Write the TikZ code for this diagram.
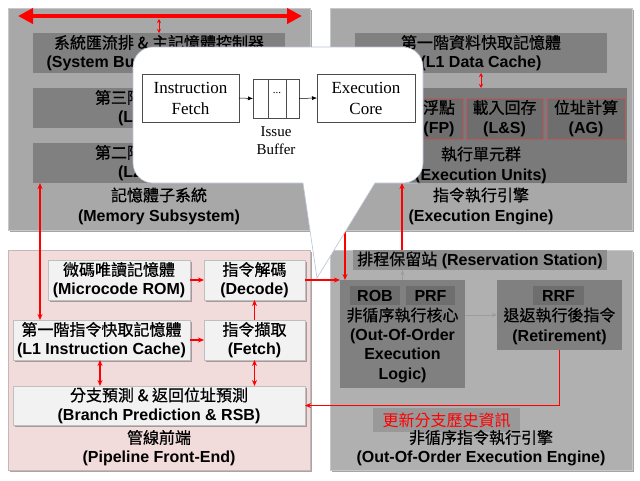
\documentclass[tikz,border=0pt]{standalone}
\usepackage{fontspec}
\setmainfont{Liberation Sans}
\newfontfamily\cjk{Noto Sans CJK TC}[FakeBold=0.6]
\newfontfamily\cjkred{Noto Sans CJK TC}
\newfontfamily\tms{Liberation Serif}
\usetikzlibrary{arrows.meta,shadows}
\definecolor{pgray}{HTML}{A8A8A8}
\definecolor{pline}{HTML}{C4C8CE}
\definecolor{dgray}{HTML}{808080}
\definecolor{ddgray}{HTML}{6E6E6E}
\definecolor{ogray}{HTML}{B0B0B0}
\definecolor{rsgray}{HTML}{8E8E8E}
\definecolor{updgray}{HTML}{999999}
\definecolor{pinkbg}{HTML}{F2DCDB}
\definecolor{pinkline}{HTML}{C9B5B5}
\definecolor{lbox}{HTML}{F2F2F2}
\definecolor{lboxline}{HTML}{BFBFBF}
\definecolor{eubord}{HTML}{B45A5A}
\definecolor{calline}{HTML}{B9C3D3}
\definecolor{garrow}{HTML}{9C9C9C}
\tikzset{
  sz/.style 2 args={minimum width=#1 pt, minimum height=#2 pt},
  panel/.style={draw=pline, line width=0.6pt, fill=#1, inner sep=0pt, outer sep=0pt,
    drop shadow={shadow xshift=2pt, shadow yshift=-2pt, opacity=0.35, fill=black}},
  gbox/.style={fill=#1, draw=none, inner sep=0pt, outer sep=0pt, align=center,
    font=\fontsize{16}{19}\selectfont},
  lbx/.style={fill=lbox, draw=lboxline, line width=0.5pt, inner sep=0pt, outer sep=0pt,
    align=center, font=\fontsize{16}{19}\selectfont,
    drop shadow={shadow xshift=1.5pt, shadow yshift=-1.5pt, opacity=0.3, fill=black}},
  lbl/.style={align=center, font=\fontsize{16}{20}\selectfont, inner sep=0pt},
  redarr/.style={draw=red, line width=1.2pt, -{Stealth[length=6pt,width=5pt]}},
  redbi/.style={draw=red, line width=1.2pt, {Stealth[length=6pt,width=5pt]}-{Stealth[length=6pt,width=5pt]}},
  grarr/.style={draw=garrow, line width=1pt, -{Stealth[length=5pt,width=4pt]}},
  blkarr/.style={draw=black, line width=0.5pt, -{Latex[length=5pt,width=4pt]}},
  cbox/.style={draw=black!70, line width=0.5pt, fill=white, inner sep=0pt, outer sep=0pt,
    align=center, font=\tms\fontsize{17}{21}\selectfont},
}
\begin{document}
\begin{tikzpicture}[x=1pt,y=-1pt]
\useasboundingbox[fill=white] (0,0) rectangle (640,480);

% ---------- panels ----------
\node[panel=pgray, sz={302}{222}] (mempanel) at (159,119) {};
\node[panel=pgray, sz={302}{222}] (exepanel) at (481,119) {};
\node[panel=pinkbg, draw=pinkline, sz={302}{220}] (fepanel) at (159,360) {};
\node[panel=ogray, sz={302}{220}] (ooopanel) at (481,360) {};

% ---------- memory subsystem ----------
\node[gbox=dgray, sz={252}{40}] (sysbus) at (159,53) {{\cjk 系統匯流排 \& 主記憶體控制器}\\\bfseries (System Bus \& Main Memory)};
\node[gbox=dgray, sz={252}{40}] (l3) at (159,108) {{\cjk 第三階快取記憶體}\\\bfseries (L3 Cache)};
\node[gbox=dgray, sz={252}{40}] (l2) at (159,163) {{\cjk 第二階快取記憶體}\\\bfseries (L2 Cache)};
\node[lbl] (memlbl) at (159,206) {{\cjk 記憶體子系統}\\\bfseries (Memory Subsystem)};
\coordinate (busL) at (18,16);
\coordinate (busR) at (302,16);
\coordinate (busM) at (159,19);
\draw[red, line width=4.5pt, {Triangle[length=15pt,width=15pt]}-{Triangle[length=15pt,width=15pt]}] (busL) -- (busR);
\draw[red, line width=1pt, {Stealth[length=4pt,width=4pt]}-{Stealth[length=4pt,width=4pt]}] (busM) -- (sysbus.north);

% ---------- execution engine ----------
\node[gbox=dgray, sz={252}{40}] (l1d) at (481,53) {{\cjk 第一階資料快取記憶體}\\\bfseries (L1 Data Cache)};
\node[gbox=dgray!95!black, sz={290}{95}] (eu) at (482,135.5) {};
\node[gbox=ddgray, draw=eubord, line width=0.5pt, sz={48}{41}, font=\fontsize{16}{20}\selectfont] (fp) at (439,118.5) {{\cjk 浮點}\\\bfseries (FP)};
\node[gbox=ddgray, draw=eubord, line width=0.5pt, sz={77}{41}, font=\fontsize{16}{20}\selectfont] (ls) at (504.5,118.5) {{\cjk 載入回存}\\\bfseries (L\&S)};
\node[gbox=ddgray, draw=eubord, line width=0.5pt, sz={78}{41}, font=\fontsize{16}{20}\selectfont] (ag) at (586,118.5) {{\cjk 位址計算}\\\bfseries (AG)};
\node[lbl] (eulbl) at (481,165) {{\cjk 執行單元群}\\\bfseries (Execution Units)};
\node[lbl] (exelbl) at (481,206) {{\cjk 指令執行引擎}\\\bfseries (Execution Engine)};
\draw[red, line width=1pt, {Stealth[length=4pt,width=4pt]}-{Stealth[length=4pt,width=4pt]}] (l1d.south) -- (eu.north -| l1d.south);

% ---------- pipeline front-end ----------
\node[lbx, sz={142}{40}] (mrom) at (119,280) {{\cjk 微碼唯讀記憶體}\\\bfseries (Microcode ROM)};
\node[lbx, sz={101}{40}] (dec) at (254.5,280) {{\cjk 指令解碼}\\\bfseries (Decode)};
\node[lbx, sz={177}{40}] (l1i) at (101.5,340) {{\cjk 第一階指令快取記憶體}\\\bfseries (L1 Instruction Cache)};
\node[lbx, sz={101}{40}] (fetch) at (254.5,340) {{\cjk 指令擷取}\\\bfseries (Fetch)};
\node[lbx, sz={292}{39}] (bp) at (159,405.5) {{\cjk 分支預測 \& 返回位址預測}\\\bfseries (Branch Prediction \& RSB)};
\node[lbl, font=\fontsize{16}{19}\selectfont] (felbl) at (159,448) {{\cjk 管線前端}\\\bfseries (Pipeline Front-End)};

% ---------- out-of-order engine ----------
\node[gbox=rsgray, sz={254}{20}] (rs) at (480,260) {{\cjk 排程保留站} \bfseries (Reservation Station)};
\node[gbox=dgray, sz={125}{108}] (core) at (402.5,334) {};
\node[gbox=ddgray, sz={50}{19}] (rob) at (375,295.5) {\bfseries ROB};
\node[gbox=ddgray, sz={49}{19}] (prf) at (430.5,295.5) {\bfseries PRF};
\node[lbl, font=\fontsize{16}{19.3}\selectfont] (corelbl) at (402.5,345) {{\cjk 非循序執行核心}\\\bfseries (Out-Of-Order\\\bfseries Execution\\\bfseries Logic)};
\node[gbox=dgray, sz={125}{70}] (ret) at (559.5,315) {};
\node[gbox=ddgray, sz={51}{19}] (rrf) at (558.5,295.5) {\bfseries RRF};
\node[lbl] (retlbl) at (559.5,326) {{\cjk 退返執行後指令}\\\bfseries (Retirement)};
\node[gbox=updgray, sz={147}{24}] (upd) at (446.5,420) {\textcolor{red}{\cjkred 更新分支歷史資訊}};
\node[lbl, font=\fontsize{16}{19}\selectfont] (ooolbl) at (481,448) {{\cjk 非循序指令執行引擎}\\\bfseries (Out-Of-Order Execution Engine)};

% ---------- connectors ----------
\coordinate (xa) at (40,0);
\coordinate (xb) at (100,0);
\coordinate (xc) at (345,0);
\coordinate (xd) at (402,0);
\draw[redbi] (l2.south -| xa) -- (l1i.north -| xa);
\draw[redbi] (l1i.south -| xb) -- (bp.north -| xb);
\draw[redbi] (fetch.south) -- (bp.north -| fetch.south);
\draw[redarr] (fetch.north) -- (dec.south);
\draw[redarr] (mrom.east) -- (dec.west);
\draw[redarr] (l1i.east) -- (fetch.west);
\draw[redarr] (dec.east) -- (dec.east -| core.west);
\draw[redarr] (eu.south -| xc) -- (core.north -| xc);
\draw[redarr] (rs.north -| xd) -- (eu.south -| xd);
\draw[redarr] (ret.south) |- (bp.east);
\draw[grarr] (core.north) -- (rs.south -| core.north);
\draw[grarr] (ret.west -| core.east) -- (ret.west);

% ---------- callout ----------
\draw[fill=white, draw=calline, line width=0.6pt]
  (133,120) [rounded corners=20pt] -- (133,47) -- (423,47) -- (423,183) -- (400,183)
  [sharp corners] -- (375,183) -- (317,278) -- (303,183) -- (280,183)
  [rounded corners=20pt] -- (133,183) -- cycle;
\node[cbox, sz={97}{48}] (ifb) at (190.5,98) {Instruction\\Fetch};
\node[cbox, sz={46}{39}] (buf) at (276,98.5) {};
\coordinate (d1) at (268,0);
\coordinate (d2) at (286,0);
\draw[black!70, line width=0.5pt] (buf.north -| d1) -- (buf.south -| d1);
\draw[black!70, line width=0.5pt] (buf.north -| d2) -- (buf.south -| d2);
\node[inner sep=0pt, font=\tms\fontsize{11}{11}\selectfont] (dots) at (277,93) {...};
\node[cbox, sz={98}{48}] (ec) at (366,98) {Execution\\Core};
\node[inner sep=0pt, align=center, font=\tms\fontsize{15}{18}\selectfont] (buflbl) at (276,141) {Issue\\Buffer};
\draw[blkarr] (ifb.east) -- (buf.west);
\draw[blkarr] (buf.east) -- (ec.west);
\end{tikzpicture}
\end{document}
